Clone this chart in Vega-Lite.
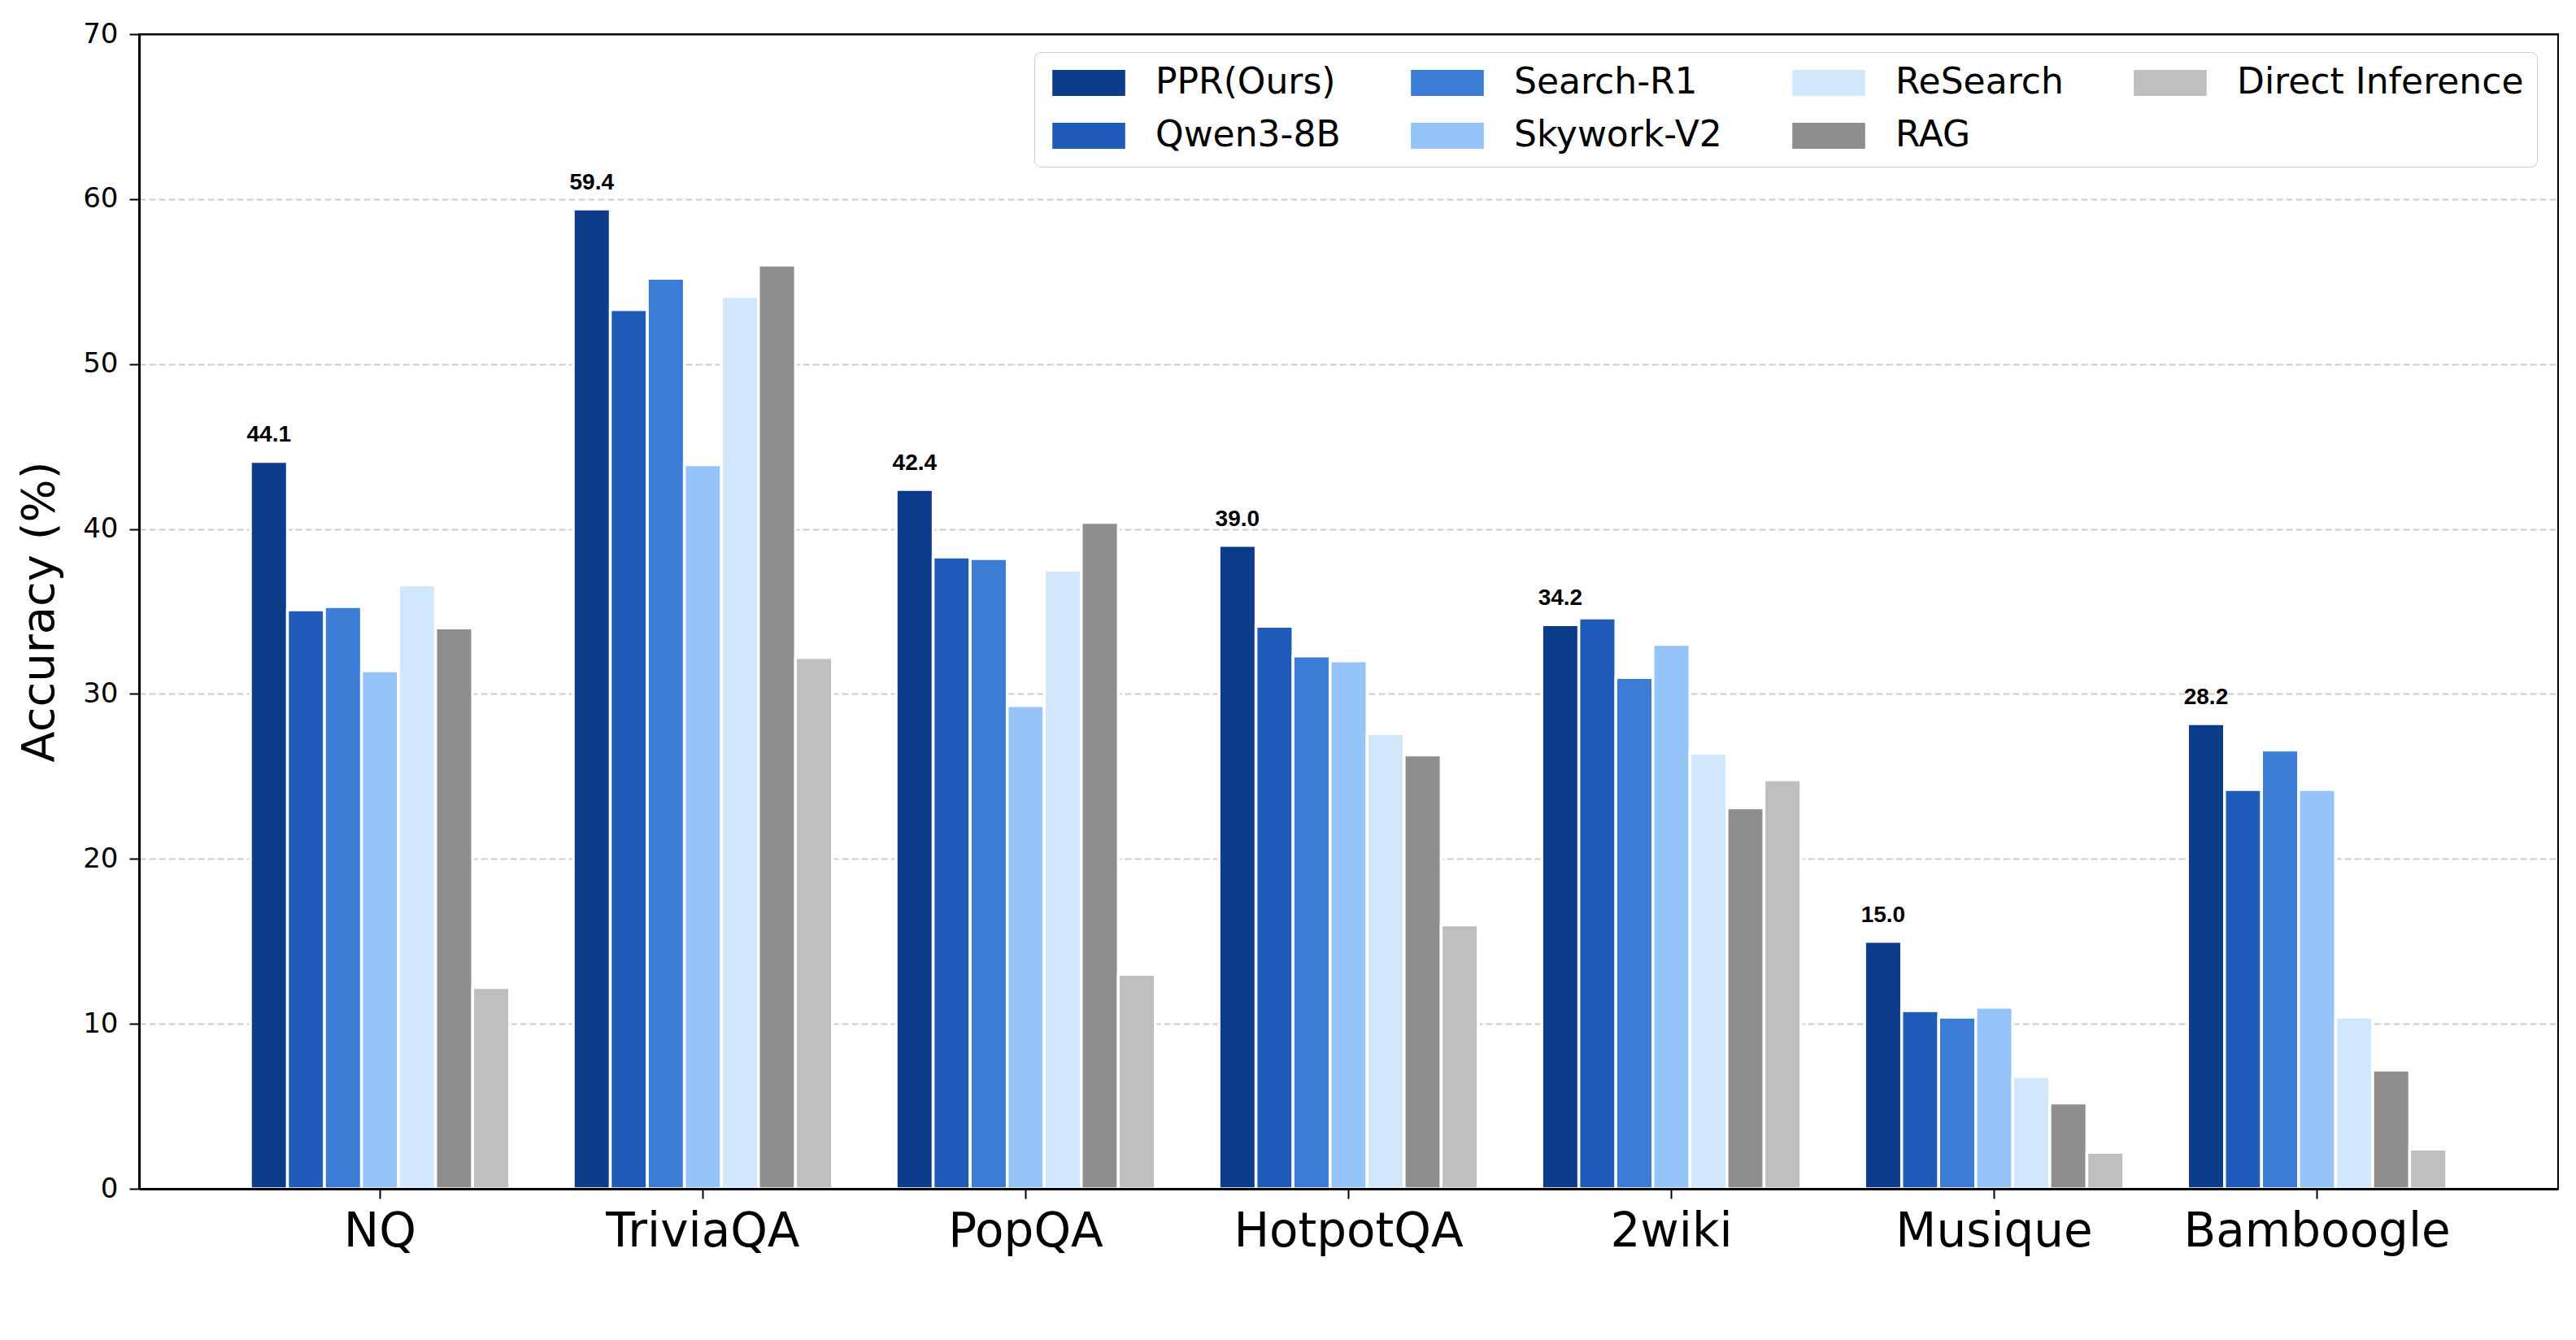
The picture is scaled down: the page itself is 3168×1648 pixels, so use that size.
{
  "$schema": "https://vega.github.io/schema/vega-lite/v6.json",
  "autosize": {"type": "none"},
  "width": 2975,
  "height": 1420,
  "padding": {"left": 171, "top": 42, "right": 22, "bottom": 186},
  "background": "white",
  "config": {
    "view": {"stroke": "black", "strokeWidth": 2},
    "font": "DejaVu Sans"
  },
  "data": {
    "values": [
      {"d": "NQ", "m": "PPR(Ours)", "v": 44.1},
      {"d": "NQ", "m": "Qwen3-8B", "v": 35.1},
      {"d": "NQ", "m": "Search-R1", "v": 35.3},
      {"d": "NQ", "m": "Skywork-V2", "v": 31.4},
      {"d": "NQ", "m": "ReSearch", "v": 36.6},
      {"d": "NQ", "m": "RAG", "v": 34.0},
      {"d": "NQ", "m": "Direct Inference", "v": 12.2},
      {"d": "TriviaQA", "m": "PPR(Ours)", "v": 59.4},
      {"d": "TriviaQA", "m": "Qwen3-8B", "v": 53.3},
      {"d": "TriviaQA", "m": "Search-R1", "v": 55.2},
      {"d": "TriviaQA", "m": "Skywork-V2", "v": 43.9},
      {"d": "TriviaQA", "m": "ReSearch", "v": 54.1},
      {"d": "TriviaQA", "m": "RAG", "v": 56.0},
      {"d": "TriviaQA", "m": "Direct Inference", "v": 32.2},
      {"d": "PopQA", "m": "PPR(Ours)", "v": 42.4},
      {"d": "PopQA", "m": "Qwen3-8B", "v": 38.3},
      {"d": "PopQA", "m": "Search-R1", "v": 38.2},
      {"d": "PopQA", "m": "Skywork-V2", "v": 29.3},
      {"d": "PopQA", "m": "ReSearch", "v": 37.5},
      {"d": "PopQA", "m": "RAG", "v": 40.4},
      {"d": "PopQA", "m": "Direct Inference", "v": 13.0},
      {"d": "HotpotQA", "m": "PPR(Ours)", "v": 39.0},
      {"d": "HotpotQA", "m": "Qwen3-8B", "v": 34.1},
      {"d": "HotpotQA", "m": "Search-R1", "v": 32.3},
      {"d": "HotpotQA", "m": "Skywork-V2", "v": 32.0},
      {"d": "HotpotQA", "m": "ReSearch", "v": 27.6},
      {"d": "HotpotQA", "m": "RAG", "v": 26.3},
      {"d": "HotpotQA", "m": "Direct Inference", "v": 16.0},
      {"d": "2wiki", "m": "PPR(Ours)", "v": 34.2},
      {"d": "2wiki", "m": "Qwen3-8B", "v": 34.6},
      {"d": "2wiki", "m": "Search-R1", "v": 31.0},
      {"d": "2wiki", "m": "Skywork-V2", "v": 33.0},
      {"d": "2wiki", "m": "ReSearch", "v": 26.4},
      {"d": "2wiki", "m": "RAG", "v": 23.1},
      {"d": "2wiki", "m": "Direct Inference", "v": 24.8},
      {"d": "Musique", "m": "PPR(Ours)", "v": 15.0},
      {"d": "Musique", "m": "Qwen3-8B", "v": 10.8},
      {"d": "Musique", "m": "Search-R1", "v": 10.4},
      {"d": "Musique", "m": "Skywork-V2", "v": 11.0},
      {"d": "Musique", "m": "ReSearch", "v": 6.8},
      {"d": "Musique", "m": "RAG", "v": 5.2},
      {"d": "Musique", "m": "Direct Inference", "v": 2.2},
      {"d": "Bamboogle", "m": "PPR(Ours)", "v": 28.2},
      {"d": "Bamboogle", "m": "Qwen3-8B", "v": 24.2},
      {"d": "Bamboogle", "m": "Search-R1", "v": 26.6},
      {"d": "Bamboogle", "m": "Skywork-V2", "v": 24.2},
      {"d": "Bamboogle", "m": "ReSearch", "v": 10.4},
      {"d": "Bamboogle", "m": "RAG", "v": 7.2},
      {"d": "Bamboogle", "m": "Direct Inference", "v": 2.4}
    ]
  },
  "encoding": {
    "x": {
      "field": "d",
      "type": "nominal",
      "sort": null,
      "scale": {
        "domain": ["NQ", "TriviaQA", "PopQA", "HotpotQA", "2wiki", "Musique", "Bamboogle"],
        "paddingInner": 0.197,
        "paddingOuter": 0.345
      },
      "axis": {
        "title": null,
        "labelAngle": 0,
        "labelFont": "DejaVu Sans",
        "labelFontSize": 58,
        "labelColor": "black",
        "labelLimit": 1000,
        "labelPadding": 12,
        "tickSize": 12,
        "tickWidth": 2,
        "tickColor": "black",
        "domainColor": "black",
        "domainWidth": 3,
        "zindex": 1
      }
    },
    "xOffset": {
      "field": "m",
      "type": "nominal",
      "scale": {
        "domain": ["PPR(Ours)", "Qwen3-8B", "Search-R1", "Skywork-V2", "ReSearch", "RAG", "Direct Inference"],
        "paddingInner": 0,
        "paddingOuter": 0
      }
    },
    "y": {
      "field": "v",
      "type": "quantitative",
      "scale": {"domain": [0, 70], "nice": false},
      "axis": {
        "title": "Accuracy (%)",
        "titleFont": "DejaVu Sans",
        "titleFontSize": 56,
        "titleFontWeight": "normal",
        "titleColor": "black",
        "titlePadding": 24,
        "values": [0, 10, 20, 30, 40, 50, 60, 70],
        "labelFont": "DejaVu Sans",
        "labelFontSize": 34,
        "labelColor": "black",
        "labelPadding": 14,
        "tickSize": 12,
        "tickWidth": 2,
        "tickColor": "black",
        "domainColor": "black",
        "domainWidth": 3,
        "grid": true,
        "gridColor": {"condition": {"test": "datum.value === 70", "value": "black"}, "value": "#cccccc"},
        "gridDash": {"condition": {"test": "datum.value === 70", "value": []}, "value": [8, 4]},
        "gridWidth": 2
      }
    }
  },
  "layer": [
    {
      "mark": {"type": "bar", "stroke": "white", "strokeWidth": 3.5},
      "encoding": {
        "color": {
          "field": "m",
          "type": "nominal",
          "scale": {
            "domain": ["PPR(Ours)", "Qwen3-8B", "Search-R1", "Skywork-V2", "ReSearch", "RAG", "Direct Inference"],
            "range": ["#0c3c8a", "#1f5bb8", "#3b7dd6", "#94c4f8", "#d1e7fc", "#8e8e8e", "#bfbfbf"]
          },
          "legend": {
            "title": null,
            "orient": "none",
            "legendX": 1101,
            "legendY": 22,
            "columns": 4,
            "padding": 16,
            "strokeColor": "#cccccc",
            "fillColor": "white",
            "cornerRadius": 8,
            "labelFont": "DejaVu Sans",
            "labelFontSize": 44,
            "labelColor": "black",
            "labelLimit": 1000,
            "symbolType": "M-2.8,-1H2.8V1H-2.8Z",
            "symbolSize": 1024,
            "symbolStrokeWidth": 0,
            "symbolOpacity": 1,
            "symbolOffset": 29,
            "labelOffset": 60,
            "columnPadding": 80,
            "rowPadding": 21
          }
        }
      }
    },
    {
      "transform": [{"filter": "datum.m === 'PPR(Ours)'"}],
      "mark": {
        "type": "text",
        "font": "Liberation Sans",
        "fontWeight": "bold",
        "fontSize": 28,
        "baseline": "alphabetic",
        "align": "center",
        "dy": -24,
        "color": "black"
      },
      "encoding": {
        "text": {"field": "v", "type": "quantitative", "format": ".1f"}
      }
    }
  ]
}
